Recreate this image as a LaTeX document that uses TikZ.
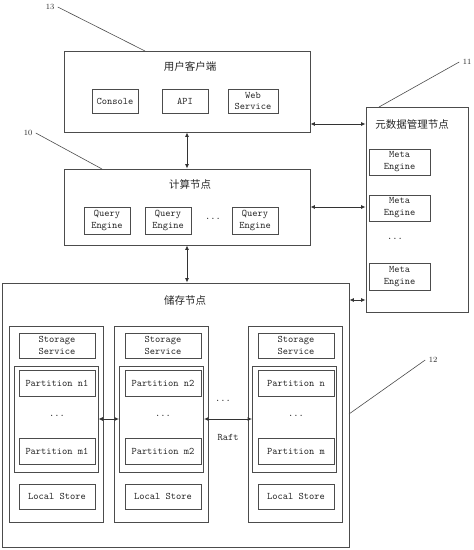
\documentclass[tikz,border=0pt]{standalone}
\usepackage{fontspec}
\newfontfamily\cjk{Noto Sans CJK SC}
\usetikzlibrary{arrows.meta}
\begin{document}
\begin{tikzpicture}[x=1pt,y=-1pt,
  every node/.style={text=black!85},
  bx/.style={draw=black!70,line width=0.8pt,inner sep=0pt,rectangle},
  sm/.style={bx,font=\ttfamily\fontsize{10}{11.5}\selectfont,align=center},
  two/.style={font=\ttfamily\fontsize{10}{12}\selectfont},
  ttl/.style={font=\cjk\fontsize{10.5}{12}\selectfont},
  txt/.style={font=\ttfamily\fontsize{10}{12}\selectfont},
  num/.style={font=\rmfamily\fontsize{8}{9}\selectfont},
  ar/.style={draw=black!80,line width=0.9pt,{Latex[length=4.5pt,width=4pt]}-{Latex[length=4.5pt,width=4pt]}},
  ld/.style={draw=black!70,line width=0.6pt}]
\useasboundingbox (0,0) rectangle (474,550);
% client
\node[bx,minimum width=246pt,minimum height=81pt] (client) at (187,91.5) {};
\node[ttl] (ctitle) at (190,66) {用户客户端};
\node[sm,minimum width=46pt,minimum height=24pt] (console) at (115,101) {Console};
\node[sm,minimum width=46pt,minimum height=24pt] (api) at (185,101) {API};
\node[sm,minimum width=50pt,minimum height=24pt,font=\ttfamily\fontsize{10}{11}\selectfont] (web) at (253,101) {Web\\Service};
% compute
\node[bx,minimum width=246pt,minimum height=76pt] (compute) at (187,207) {};
\node[ttl] (ptitle) at (190,184) {计算节点};
\node[sm,two,minimum width=46pt,minimum height=27pt] (qe1) at (107,220.5) {Query\\Engine};
\node[sm,two,minimum width=46pt,minimum height=27pt] (qe2) at (168,220.5) {Query\\Engine};
\node[txt] (qdots) at (213,219) {...};
\node[sm,two,minimum width=46pt,minimum height=27pt] (qe3) at (255,220.5) {Query\\Engine};
% meta
\node[bx,minimum width=102pt,minimum height=205pt] (meta) at (417,209.5) {};
\node[ttl] (mtitle) at (412,124) {元数据管理节点};
\node[sm,two,minimum width=61pt,minimum height=26pt] (me1) at (399.5,162) {Meta\\Engine};
\node[sm,two,minimum width=61pt,minimum height=26pt] (me2) at (399.5,208) {Meta\\Engine};
\node[txt] (mdots) at (395,239) {...};
\node[sm,two,minimum width=61pt,minimum height=27pt] (me3) at (399.5,276.5) {Meta\\Engine};
% storage
\node[bx,minimum width=347pt,minimum height=264pt] (storage) at (175.5,415) {};
\node[ttl] (stitle) at (185,300) {储存节点};
\foreach \i/\cx/\ix/\gx/\n/\m in {1/56/57/56/n1/m1, 2/161.5/163/161.5/n2/m2, 3/295/296/294.5/n/m} {
  \node[bx,minimum width=94pt,minimum height=196pt] (col\i) at (\cx,424) {};
  \node[sm,two,minimum width=76pt,minimum height=25pt] (ss\i) at (\ix,345.5) {Storage\\Service};
  \node[bx,minimum width=84pt,minimum height=106pt] (g\i) at (\gx,419) {};
  \node[sm,minimum width=76pt,minimum height=26pt] (pn\i) at (\ix,383) {Partition \n};
  \node[txt] (pd\i) at (\ix,416) {...};
  \node[sm,minimum width=76pt,minimum height=26pt] (pm\i) at (\ix,451) {Partition \m};
  \node[sm,minimum width=76pt,minimum height=25pt] (ls\i) at (\ix,496.5) {Local Store};
}
\node[txt] (rdots) at (223,401) {...};
\node[txt] (raft) at (228,437) {Raft};
% arrows
\draw[ar] (client.south) -- (compute.north);
\draw[ar] (compute.south) -- (compute.south |- storage.north);
\draw[ar] (client.east |- mtitle) -- (meta.west |- mtitle);
\draw[ar] (compute.east) -- (compute.east -| meta.west);
\draw[ar] (stitle -| storage.east) -- (stitle -| meta.west);
\draw[ar] (g1.east) -- (g2.west);
\draw[ar] (g2.east) -- (g3.west);
% leader labels
\node[num] (l13) at (50,7) {13};
\node[num] (l11) at (467,62) {11};
\node[num] (l10) at (28,133) {10};
\node[num] (l12) at (433,360) {12};
\coordinate (e13) at (145,51);
\coordinate (e11) at (379,107);
\coordinate (e10) at (102,169);
\coordinate (e12) at (349,414);
\draw[ld] (l13.east) -- (e13);
\draw[ld] (l11.west) -- (e11);
\draw[ld] (l10.east) -- (e10);
\draw[ld] (l12.west) -- (e12);
\end{tikzpicture}
\end{document}
